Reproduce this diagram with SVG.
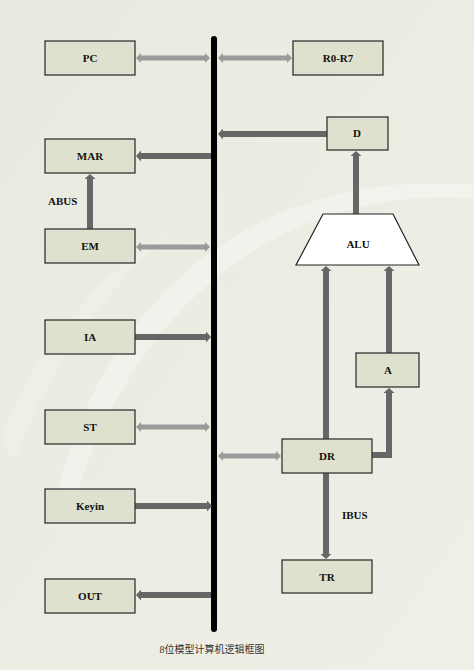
<svg xmlns="http://www.w3.org/2000/svg" width="474" height="670" viewBox="0 0 474 670">
<style>
.box{fill:#dee1cd;stroke:#333;stroke-width:1.3}
.lbl{font-family:"Liberation Serif","Times New Roman",serif;font-weight:bold;font-size:11px;fill:#111;text-anchor:middle}
.tag{font-family:"Liberation Serif","Times New Roman",serif;font-weight:bold;font-size:11px;fill:#111}
.lt{stroke:#9a9a9a;stroke-width:5;fill:none}
.dk{stroke:#666;stroke-width:6;fill:none}
</style>
<defs>
<marker id="hl" markerUnits="userSpaceOnUse" markerWidth="6" markerHeight="10" viewBox="0 0 6 10" refX="0" refY="5" orient="auto-start-reverse"><path d="M0,0 L5,5 L0,10 z" fill="#9a9a9a"/></marker>
<marker id="hd" markerUnits="userSpaceOnUse" markerWidth="6" markerHeight="11" viewBox="0 0 6 11" refX="0" refY="5.5" orient="auto-start-reverse"><path d="M0,0 L5,5.5 L0,11 z" fill="#666"/></marker>
<linearGradient id="bg" x1="0" y1="0" x2="1" y2="1"><stop offset="0" stop-color="#e9eadf"/><stop offset="1" stop-color="#efefe7"/></linearGradient>
</defs>
<rect width="474" height="670" fill="url(#bg)"/>
<path d="M55,505 C90,330 230,165 474,185 L474,198 C260,185 125,330 75,500 Z" fill="#ffffff" opacity="0.35"/>
<path d="M0,440 C30,360 90,280 170,230 C110,290 50,360 15,460 Z" fill="#ffffff" opacity="0.2"/>

<g id="connectors">
<line x1="214" y1="39" x2="214" y2="629" stroke="#000" stroke-width="6" stroke-linecap="round"/>
<line class="lt" x1="141" y1="58" x2="205" y2="58" marker-start="url(#hl)" marker-end="url(#hl)"/>
<line class="lt" x1="223" y1="58" x2="287" y2="58" marker-start="url(#hl)" marker-end="url(#hl)"/>
<line class="lt" x1="141" y1="247" x2="205" y2="247" marker-start="url(#hl)" marker-end="url(#hl)"/>
<line class="lt" x1="141" y1="427" x2="205" y2="427" marker-start="url(#hl)" marker-end="url(#hl)"/>
<line class="lt" x1="223" y1="456" x2="276" y2="456" marker-start="url(#hl)" marker-end="url(#hl)"/>
<line class="dk" x1="327" y1="134" x2="223" y2="134" marker-end="url(#hd)"/>
<line class="dk" x1="211" y1="156" x2="141" y2="156" marker-end="url(#hd)"/>
<line class="dk" x1="90" y1="229" x2="90" y2="179" marker-end="url(#hd)"/>
<line class="dk" x1="135" y1="337" x2="206" y2="337" marker-end="url(#hd)"/>
<line class="dk" x1="135" y1="506" x2="207" y2="506" marker-end="url(#hd)"/>
<line class="dk" x1="211" y1="595" x2="141" y2="595" marker-end="url(#hd)"/>
<line class="dk" x1="356" y1="214" x2="356" y2="156" marker-end="url(#hd)"/>
<line class="dk" x1="326" y1="439" x2="326" y2="271" marker-end="url(#hd)"/>
<line class="dk" x1="389" y1="353" x2="389" y2="271" marker-end="url(#hd)"/>
<polyline class="dk" points="372,455 389,455 389,393" marker-end="url(#hd)"/>
<line class="dk" x1="326" y1="473" x2="326" y2="554" marker-end="url(#hd)"/>
</g>

<g id="PC"><rect class="box" x="45" y="41" width="90" height="34"/><text class="lbl" x="90" y="62">PC</text></g>
<g id="R0-R7"><rect class="box" x="293" y="41" width="90" height="34"/><text class="lbl" x="338" y="62">R0-R7</text></g>
<g id="MAR"><rect class="box" x="45" y="139" width="90" height="34"/><text class="lbl" x="90" y="160">MAR</text></g>
<g id="EM"><rect class="box" x="45" y="229" width="90" height="34"/><text class="lbl" x="90" y="250">EM</text></g>
<g id="IA"><rect class="box" x="45" y="320" width="90" height="34"/><text class="lbl" x="90" y="341">IA</text></g>
<g id="ST"><rect class="box" x="45" y="410" width="90" height="34"/><text class="lbl" x="90" y="431">ST</text></g>
<g id="Keyin"><rect class="box" x="45" y="489" width="90" height="34"/><text class="lbl" x="90" y="510">Keyin</text></g>
<g id="OUT"><rect class="box" x="45" y="579" width="90" height="34"/><text class="lbl" x="90" y="600">OUT</text></g>
<g id="D"><rect class="box" x="327" y="117" width="61" height="33"/><text class="lbl" x="357" y="137">D</text></g>
<g id="ALU"><polygon points="323,214 393,214 419,265 296,265" fill="#fff" stroke="#222" stroke-width="1.2"/><text class="lbl" x="358" y="248">ALU</text></g>
<g id="A"><rect class="box" x="356" y="353" width="63" height="34"/><text class="lbl" x="388" y="374">A</text></g>
<g id="DR"><rect class="box" x="282" y="439" width="90" height="34"/><text class="lbl" x="327" y="460">DR</text></g>
<g id="TR"><rect class="box" x="282" y="560" width="90" height="33"/><text class="lbl" x="327" y="581">TR</text></g>

<text class="tag" x="48" y="205">ABUS</text>
<text class="tag" x="342" y="519">IBUS</text>
<text x="212" y="653" font-family="'Liberation Serif','Noto Sans CJK SC',serif" font-size="10" fill="#333" text-anchor="middle">8位模型计算机逻辑框图</text>
</svg>
